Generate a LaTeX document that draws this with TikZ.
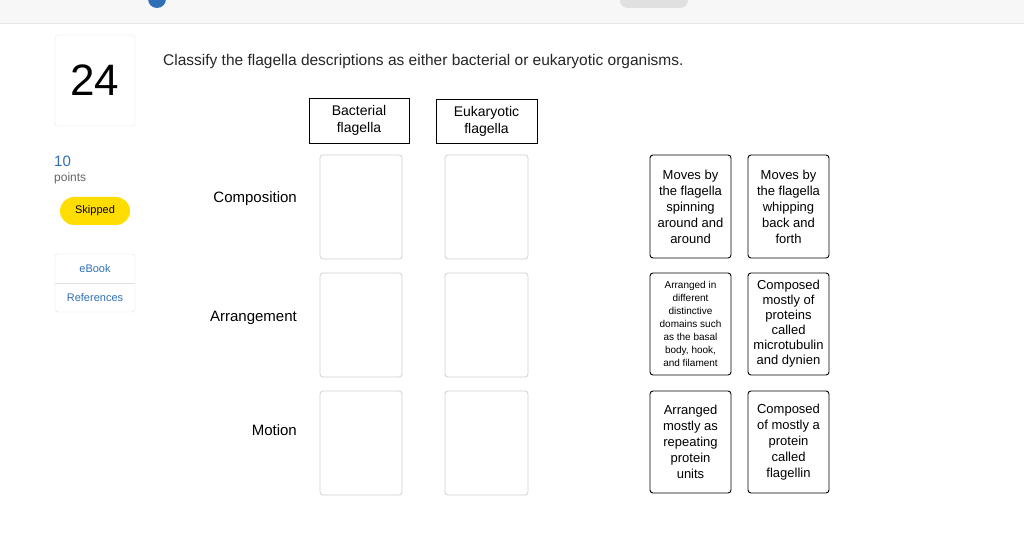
\documentclass[tikz,border=0pt]{standalone}
\usepackage{fontspec}
\setmainfont{Liberation Sans}
\definecolor{lg}{HTML}{D0D0D0}
\definecolor{bl}{HTML}{2F6FB8}
\definecolor{yl}{HTML}{FFDD00}
\tikzset{
 drop/.style={draw=lg,rounded corners=3pt,line width=0.8pt},
 card/.style={draw=black,rounded corners=3pt,line width=0.9pt,minimum width=81pt,align=center,inner sep=0pt,font=\fontsize{13}{16}\selectfont},
 smallcard/.style={card,font=\fontsize{10}{13}\selectfont},
 head/.style={draw=black,line width=0.9pt,align=center,inner sep=0pt,font=\fontsize{14}{17}\selectfont},
 lbl/.style={anchor=east,inner sep=0pt,font=\fontsize{15}{17}\selectfont}
}
\begin{document}
\begin{tikzpicture}[x=1pt,y=-1pt]
\useasboundingbox (0,0) rectangle (1024,545);
\fill[white] (0,0) rectangle (1024,545);
\fill[black!3] (0,0) rectangle (1024,23);
\draw[black!10] (0,23) -- (1024,23);
\fill[black!12,rounded corners=8pt] (620,-10) rectangle (688,8);
\fill[bl] (157,-1) circle (9);
\node[draw=black!10,rounded corners=3pt,minimum width=80pt,minimum height=91pt,font=\fontsize{44}{46}\selectfont] (num) at (95,80.5) {24};
\node[anchor=west,text=bl,font=\fontsize{15}{17}\selectfont,inner sep=0pt] (pts) at (54,161) {10};
\node[anchor=west,text=black!60,font=\fontsize{12}{14}\selectfont,inner sep=0pt] (ptl) at (54,178) {points};
\node[fill=yl,rounded corners=14pt,minimum width=70pt,minimum height=28pt,font=\fontsize{11}{13}\selectfont] (sk) at (95,211) {Skipped};
\draw[draw=black!12,rounded corners=3pt] (55,254) rectangle (135,312);
\draw[black!12] (55,283) -- (135,283);
\node[text=bl,font=\fontsize{11}{13}\selectfont] (eb) at (95,268.5) {eBook};
\node[text=bl,font=\fontsize{11}{13}\selectfont] (rf) at (95,297.5) {References};
\node[anchor=west,inner sep=0pt,font=\fontsize{15.5}{17}\selectfont,text=black!85] (t) at (163,61) {Classify the flagella descriptions as either bacterial or eukaryotic organisms.};
\node[head,minimum width=100pt,minimum height=45pt] (hb) at (359,120.5) {Bacterial\\flagella};
\node[head,minimum width=101pt,minimum height=44pt] (he) at (486.5,121) {Eukaryotic\\flagella};
\foreach \y in {155,273,391}{
 \draw[drop] (320,\y) rectangle (402,\y+104);
 \draw[drop] (445,\y) rectangle (528,\y+104);
}
\node[lbl] (l1) at (297,199) {Composition};
\node[lbl] (l2) at (297,318) {Arrangement};
\node[lbl] (l3) at (297,430) {Motion};
\node[card,minimum height=103pt] (c1) at (690.5,206.5) {Moves by\\the flagella\\spinning\\around and\\around};
\node[card,minimum height=103pt] (c2) at (788.5,206.5) {Moves by\\the flagella\\whipping\\back and\\forth};
\node[smallcard,minimum height=102pt] (c3) at (690.5,324) {Arranged in\\different\\distinctive\\domains such\\as the basal\\body, hook,\\and filament};
\node[card,minimum height=102pt,font=\fontsize{13}{15}\selectfont] (c4) at (788.5,324) {Composed\\mostly of\\proteins\\called\\microtubulin\\and dynien};
\node[card,minimum height=102pt] (c5) at (690.5,442) {Arranged\\mostly as\\repeating\\protein\\units};
\node[card,minimum height=102pt] (c6) at (788.5,442) {Composed\\of mostly a\\protein\\called\\flagellin};
\end{tikzpicture}
\end{document}
